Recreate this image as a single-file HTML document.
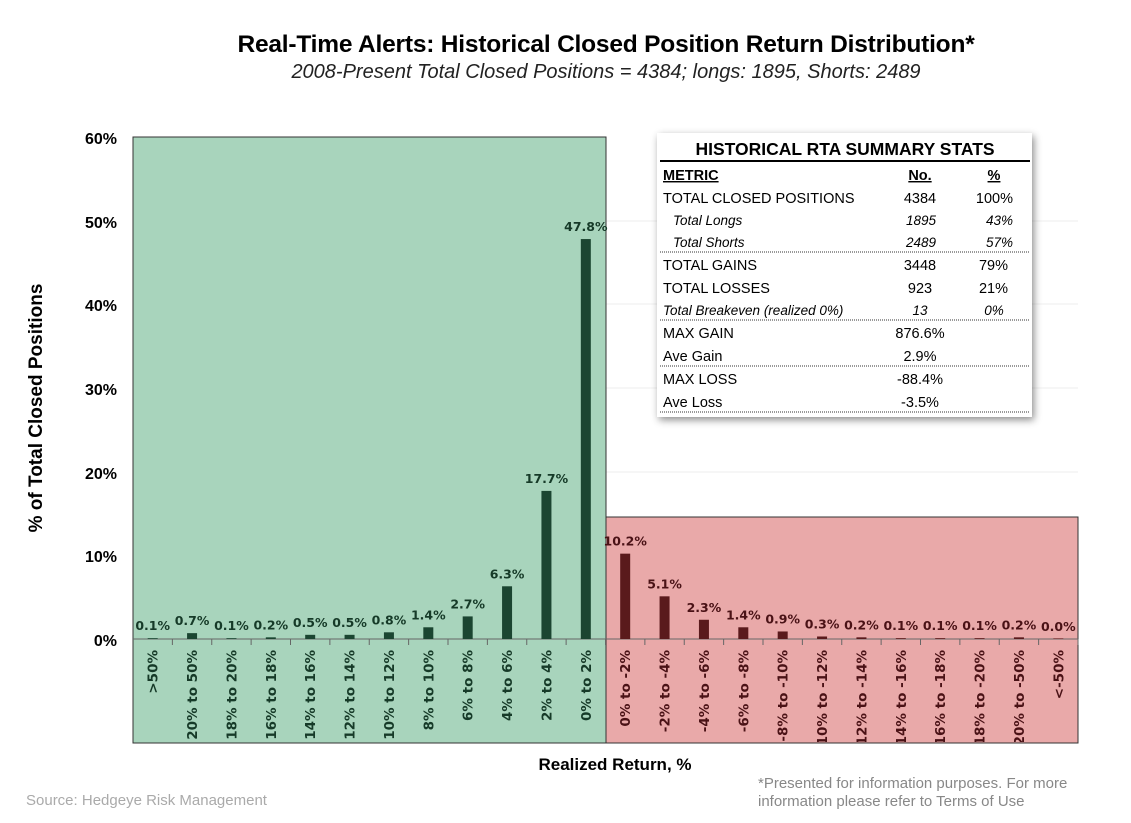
<!DOCTYPE html>
<html><head><meta charset="utf-8"><style>
body{margin:0;background:#fff;width:1131px;height:818px;overflow:hidden;font-family:"Liberation Sans",sans-serif}
</style></head><body>
<svg width="1131" height="818" xmlns="http://www.w3.org/2000/svg" font-family="Liberation Sans, sans-serif">
<defs>
<clipPath id="c"><rect x="133" y="137" width="945" height="605"/></clipPath>
<filter id="sh" x="-10%" y="-10%" width="120%" height="120%"><feDropShadow dx="2" dy="3" stdDeviation="4" flood-color="#000" flood-opacity="0.45"/></filter>
</defs>
<text x="606" y="52" text-anchor="middle" font-size="24.5" font-weight="bold" fill="#000" letter-spacing="-0.2">Real-Time Alerts: Historical Closed Position Return Distribution*</text>
<text x="606" y="78" text-anchor="middle" font-size="20" font-style="italic" fill="#222">2008-Present Total Closed Positions = 4384; longs: 1895, Shorts: 2489</text>
<g stroke="#eee" stroke-width="1">
<line x1="606" x2="1078" y1="221" y2="221"/><line x1="606" x2="1078" y1="304" y2="304"/><line x1="606" x2="1078" y1="388" y2="388"/><line x1="606" x2="1078" y1="472" y2="472"/>
</g>
<rect x="133" y="137" width="473" height="606" fill="#a8d4bc" stroke="#333" stroke-width="1"/>
<rect x="606" y="517" width="472" height="226" fill="#e9a9a9" stroke="#333" stroke-width="1"/>
<g font-size="16" font-weight="bold" fill="#000" text-anchor="end">
<text x="117" y="144">60%</text><text x="117" y="228">50%</text><text x="117" y="311">40%</text><text x="117" y="395">30%</text><text x="117" y="479">20%</text><text x="117" y="562">10%</text><text x="117" y="646">0%</text>
</g>
<text transform="translate(42,408) rotate(-90)" text-anchor="middle" font-size="19" font-weight="bold">% of Total Closed  Positions</text>
<line x1="133" x2="1078" y1="639" y2="639" stroke="#666" stroke-width="1"/>
<g id="bars" font-family="DejaVu Sans, sans-serif" font-weight="bold" font-size="12.5"></g>
<text x="615" y="770" text-anchor="middle" font-size="17" font-weight="bold">Realized Return, %</text>
<text x="26" y="805" font-size="15" fill="#aaa">Source: Hedgeye Risk Management</text>
<text x="758" y="788" font-size="15" fill="#888">*Presented for information purposes. For more</text>
<text x="758" y="806" font-size="15" fill="#888">information please refer to Terms of Use</text>
<g filter="url(#sh)"><rect x="657" y="133" width="375" height="284" fill="#fff"/></g>
<g font-family="Liberation Sans, sans-serif" font-size="14.5" fill="#000">
<text x="845" y="155" text-anchor="middle" font-size="17.5" font-weight="bold">HISTORICAL RTA SUMMARY STATS</text>
<line x1="660" x2="1030" y1="161" y2="161" stroke="#000" stroke-width="2"/>
<text x="663" y="180" font-weight="bold" text-decoration="underline">METRIC</text>
<text x="920" y="180" text-anchor="middle" font-weight="bold" text-decoration="underline">No.</text>
<text x="994" y="180" text-anchor="middle" font-weight="bold" text-decoration="underline">%</text>
<text x="663" y="203">TOTAL CLOSED POSITIONS</text><text x="920" y="203" text-anchor="middle">4384</text><text x="1013" y="203" text-anchor="end">100%</text>
<g font-style="italic" font-size="13.5"><text x="673" y="225">Total Longs</text><text x="936" y="225" text-anchor="end">1895</text><text x="1013" y="225" text-anchor="end">43%</text>
<text x="673" y="247">Total Shorts</text><text x="936" y="247" text-anchor="end">2489</text><text x="1013" y="247" text-anchor="end">57%</text></g>
<line x1="660" x2="1030" y1="252" y2="252" stroke="#333" stroke-dasharray="1,1"/>
<text x="663" y="270">TOTAL GAINS</text><text x="920" y="270" text-anchor="middle">3448</text><text x="1008" y="270" text-anchor="end">79%</text>
<text x="663" y="293">TOTAL LOSSES</text><text x="920" y="293" text-anchor="middle">923</text><text x="1008" y="293" text-anchor="end">21%</text>
<text x="663" y="315" font-style="italic" font-size="13.5">Total Breakeven (realized 0%)</text><text x="920" y="315" text-anchor="middle" font-style="italic" font-size="13.5">13</text><text x="994" y="315" text-anchor="middle" font-style="italic" font-size="13.5">0%</text>
<line x1="660" x2="1030" y1="320" y2="320" stroke="#333" stroke-dasharray="1,1"/>
<text x="663" y="338">MAX GAIN</text><text x="920" y="338" text-anchor="middle">876.6%</text>
<text x="663" y="361">Ave Gain</text><text x="920" y="361" text-anchor="middle">2.9%</text>
<line x1="660" x2="1030" y1="366" y2="366" stroke="#333" stroke-dasharray="1,1"/>
<text x="663" y="384">MAX LOSS</text><text x="920" y="384" text-anchor="middle">-88.4%</text>
<text x="663" y="407">Ave Loss</text><text x="920" y="407" text-anchor="middle">-3.5%</text>
<line x1="660" x2="1030" y1="412" y2="412" stroke="#333" stroke-dasharray="1,1"/>
</g>
</svg>
<script>
var cats=[">50%","20% to 50%","18% to 20%","16% to 18%","14% to 16%","12% to 14%","10% to 12%","8% to 10%","6% to 8%","4% to 6%","2% to 4%","0% to 2%","0% to -2%","-2% to -4%","-4% to -6%","-6% to -8%","-8% to -10%","-10% to -12%","-12% to -14%","-14% to -16%","-16% to -18%","-18% to -20%","-20% to -50%","<-50%"];
var v=[0.1,0.7,0.1,0.2,0.5,0.5,0.8,1.4,2.7,6.3,17.7,47.8,10.2,5.1,2.3,1.4,0.9,0.3,0.2,0.1,0.1,0.1,0.2,0.0];
var g=document.getElementById('bars'),s='',w=945/24;
for(var i=0;i<24;i++){var cx=133+w*(i+0.5),h=v[i]*8.367,red=i>=12,col=red?'#5a1a1c':'#1b4531',tc=red?'#4a1216':'#163a28';
s+='<line x1="'+(133+w*(i+1))+'" x2="'+(133+w*(i+1))+'" y1="639" y2="645" stroke="#666"/>';
s+='<rect x="'+(cx-5)+'" y="'+(639-Math.max(h,0.6))+'" width="10" height="'+Math.max(h,0.6)+'" fill="'+col+'"/>';
s+='<text x="'+cx+'" y="'+(639-h-8)+'" text-anchor="middle" fill="'+tc+'">'+v[i].toFixed(1)+'%</text>';
s+='<g clip-path="url(#c)"><text transform="translate('+(cx+5)+',650) rotate(-90)" text-anchor="end" font-size="13.5" fill="'+tc+'">'+cats[i].replace('<','&lt;').replace('>','&gt;')+'</text></g>';}
g.innerHTML=s;
</script>
</body></html>
